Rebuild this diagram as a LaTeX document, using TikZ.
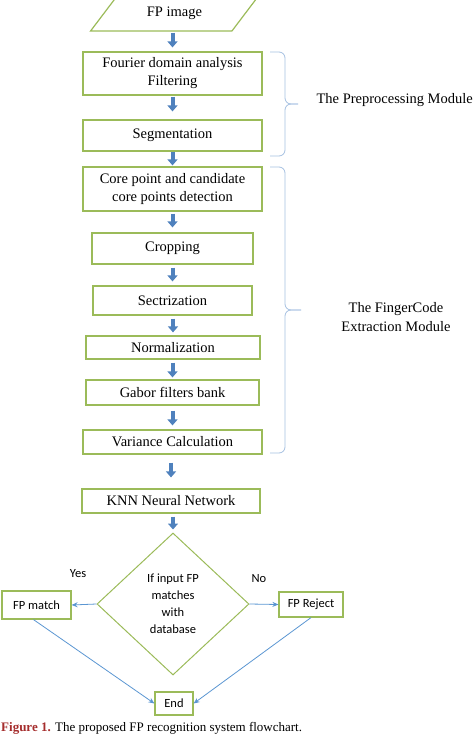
\documentclass[tikz,border=0pt]{standalone}
\usepackage{fontspec}
\setmainfont{Liberation Serif}
\newfontfamily\calfont{Carlito}
\usetikzlibrary{shapes.geometric,arrows.meta}
\definecolor{boxgreen}{RGB}{155,187,89}
\definecolor{blockblue}{RGB}{79,129,189}
\definecolor{linkblue}{RGB}{91,150,210}
\definecolor{bracegray}{RGB}{165,192,225}
\definecolor{capred}{RGB}{165,45,45}
\tikzset{
  stage/.style={draw=boxgreen, line width=1.2pt, align=center, inner sep=0pt,
    font=\fontsize{14.5}{18}\selectfont},
  outcome/.style={stage, font=\calfont\fontsize{12.5}{17}\selectfont},
  blk/.style={blockblue, line width=4pt, -{Triangle[length=6pt,width=10pt]}},
  link/.style={linkblue, line width=0.8pt, -{Stealth[length=6pt,width=5pt]}},
  brc/.style={bracegray, line width=0.8pt, rounded corners=6pt},
}
\begin{document}
\begin{tikzpicture}[x=1pt,y=-1pt]
	\useasboundingbox (0,0) rectangle (474,741);
	\clip (0,0) rectangle (474,741);
	% input
	\node [stage, trapezium, trapezium left angle=45, trapezium right angle=135,
	       trapezium stretches=true, minimum width=168pt, minimum height=35pt] (img) at (174.5,13.5) {FP image};
	% preprocessing module
	\node [stage, minimum width=179pt, minimum height=43pt] (fourier) at (172.5,73.5) {Fourier domain analysis\\Filtering};
	\node [stage, minimum width=179pt, minimum height=31pt] (seg) at (172.5,135.5) {Segmentation};
	% fingercode extraction module
	\node [stage, minimum width=179pt, minimum height=44pt] (core) at (172.5,189) {Core point and candidate\\core points detection};
	\node [stage, minimum width=161pt, minimum height=31pt] (crop) at (172.5,248.5) {Cropping};
	\node [stage, minimum width=159pt, minimum height=29pt] (sect) at (172.5,300.5) {Sectrization};
	\node [stage, minimum width=174pt, minimum height=23pt] (norm) at (173,347.5) {Normalization};
	\node [stage, minimum width=173pt, minimum height=25pt] (gabor) at (172.5,392.5) {Gabor filters bank};
	\node [stage, minimum width=179pt, minimum height=24pt] (var) at (172.5,442) {Variance Calculation};
	% matching
	\node [stage, minimum width=178pt, minimum height=24pt] (knn) at (171,501) {KNN Neural Network};
	\node [outcome, diamond, line width=1pt, minimum width=152pt, minimum height=142pt] (check) at (173,604) {If input FP\\matches\\with\\database};
	\node [outcome, minimum width=69pt, minimum height=28pt] (match) at (36.5,605) {FP match};
	\node [outcome, minimum width=64pt, minimum height=25pt] (reject) at (311,604.5) {FP Reject};
	\node [outcome, minimum width=38pt, minimum height=23pt] (finish) at (174,703.5) {End};
	% block arrows between stages
	\foreach \a/\b/\s/\e in {img/fourier/1/4, fourier/seg/1/8, seg/core/0/1, core/crop/2/5,
	    crop/sect/3/4, sect/norm/3/3, norm/gabor/3/2, gabor/var/5/4, var/knn/8/11, knn/check/3/3}
	  \draw [blk, shorten <=\s pt, shorten >=\e pt] (\b.north |- \a.south) -- (\b.north);
	% decisions
	\draw [link] (check.west) -- (match.east);
	\draw [link] (check.east) -- (reject.west);
	\draw [link] ([xshift=-3pt]match.south) -- (finish.west);
	\draw [link] (reject.south) -- (finish.east);
	\node [outcome, draw=none] (yes) at (78,574) {Yes};
	\node [outcome, draw=none] (no) at (259,579) {No};
	% module braces
	\draw [brc] (270,52) -| (285,104) -- (298,104);
	\draw [brc] (270,156) -| (285,104) -- (298,104);
	\draw [brc] (270,167) -| (285,310) -- (301,310);
	\draw [brc] (270,453) -| (285,310) -- (301,310);
	\node [stage, draw=none, anchor=west] (pre) at (316,100) {The Preprocessing Module};
	\node [stage, draw=none, font=\fontsize{14.5}{19}\selectfont] (fce) at (396,317.5) {The FingerCode\\Extraction Module};
	% caption
	\node [anchor=west, inner sep=1pt, font=\fontsize{13}{15}\selectfont] (cap) at (0,728)
	  {\textcolor{capred}{\textbf{Figure 1.}} The proposed FP recognition system flowchart.};
\end{tikzpicture}
\end{document}
